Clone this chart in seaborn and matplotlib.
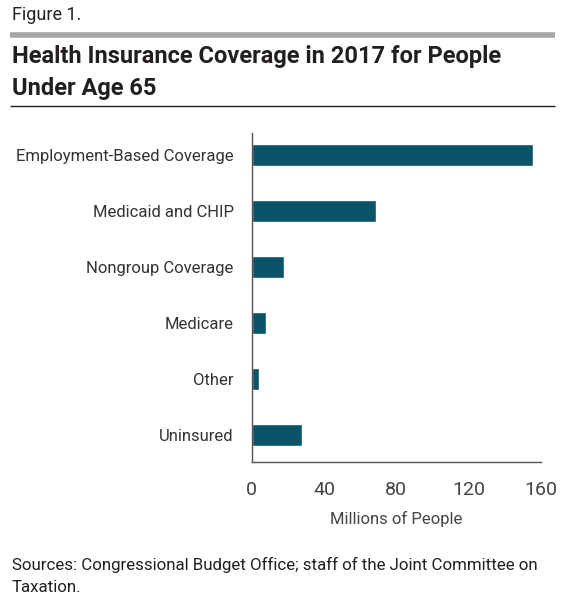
import matplotlib
matplotlib.use("Agg")
import matplotlib.pyplot as plt
import seaborn as sns
import pandas as pd
from matplotlib.lines import Line2D

# Data (millions of people)
categories = ["Employment-Based Coverage", "Medicaid and CHIP", "Nongroup Coverage",
              "Medicare", "Other", "Uninsured"]
values = [156, 69, 18, 8, 4, 28]
x_ticks = [0, 40, 80, 120, 160]

BAR_COLOR = "#0b5369"
TEXT_COLOR = "#231f20"
AXIS_COLOR = "#555555"

sns.set_theme(style="white")
plt.rcParams["font.family"] = ["Roboto", "DejaVu Sans"]

df = pd.DataFrame({"category": categories, "value": values})

fig = plt.figure(figsize=(5.72, 6.05), dpi=100)
ax = fig.add_axes([0.44, 0.2364, 0.5053, 0.5438])

sns.barplot(data=df, x="value", y="category", orient="h", color=BAR_COLOR,
            width=0.39, saturation=1, ax=ax)

ax.set_xlim(0, 160)
ax.set_ylim(5.48, -0.39)
ax.set_xticks(x_ticks)
ax.set_xticklabels([str(t) for t in x_ticks], fontsize=14, color="#444444")
ax.tick_params(axis="x", direction="out", length=4, width=1, color=AXIS_COLOR, pad=10)
ax.tick_params(axis="y", length=0, pad=13, labelsize=12, labelcolor="#333333")
ax.set_xlabel("Millions of People", fontsize=12, color="#444444", labelpad=8)
ax.set_ylabel("")

for side in ["top", "right"]:
    ax.spines[side].set_visible(False)
for side in ["left", "bottom"]:
    ax.spines[side].set_color(AXIS_COLOR)
    ax.spines[side].set_linewidth(1)

# Header
fig.text(12 / 572, 1 - 15 / 605, "Figure 1.", fontsize=13, color=TEXT_COLOR, va="center")
fig.add_artist(Line2D([10 / 572, 555 / 572], [1 - 35 / 605] * 2, color="#a6a6a6",
                      linewidth=4, solid_capstyle="butt", transform=fig.transFigure))
fig.text(12 / 572, 1 - 56 / 605, "Health Insurance Coverage in 2017 for People",
         fontsize=17, fontweight="bold", color=TEXT_COLOR, va="center")
fig.text(12 / 572, 1 - 88 / 605, "Under Age 65",
         fontsize=17, fontweight="bold", color=TEXT_COLOR, va="center")
fig.add_artist(Line2D([10 / 572, 555 / 572], [1 - 106 / 605] * 2, color="#231f20",
                      linewidth=1, solid_capstyle="butt", transform=fig.transFigure))

# Source note
fig.text(12 / 572, 1 - 565 / 605,
         "Sources: Congressional Budget Office; staff of the Joint Committee on",
         fontsize=12.2, color=TEXT_COLOR, va="center")
fig.text(12 / 572, 1 - 588 / 605, "Taxation.", fontsize=12.2, color=TEXT_COLOR, va="center")

fig.savefig("out.png", dpi=100)
